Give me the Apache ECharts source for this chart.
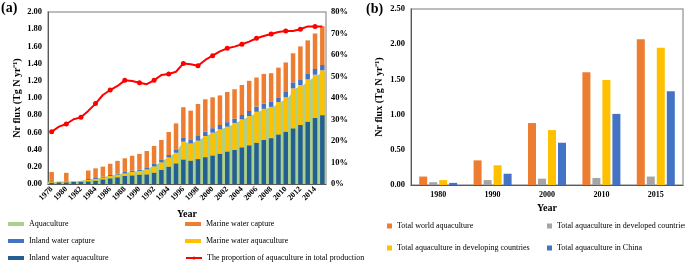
<!DOCTYPE html>
<html>
<head>
<meta charset="utf-8">
<script src="https://cdn.jsdelivr.net/npm/echarts@6/dist/echarts.min.js"></script>
<style>
  html, body { margin: 0; padding: 0; background: #fff; }
  #chart { width: 685px; height: 263px; }
</style>
</head>
<body>
<div id="chart"></div>
<script>
// panel (a): 1978-2015
const years = ['1978', '1979', '1980', '1981', '1982', '1983', '1984', '1985', '1986', '1987',
  '1988', '1989', '1990', '1991', '1992', '1993', '1994', '1995', '1996', '1997',
  '1998', '1999', '2000', '2001', '2002', '2003', '2004', '2005', '2006', '2007',
  '2008', '2009', '2010', '2011', '2012', '2013', '2014', '2015']
const inlandAquaculture = [0.016, 0.020, 0.020, 0.023, 0.025, 0.031, 0.039, 0.054, 0.066, 0.078,
  0.093, 0.100, 0.109, 0.112, 0.132, 0.165, 0.202, 0.240, 0.285, 0.272,
  0.290, 0.312, 0.332, 0.352, 0.378, 0.395, 0.426, 0.450, 0.480, 0.512,
  0.533, 0.576, 0.608, 0.647, 0.686, 0.725, 0.767, 0.800]
const marineAquaculture = [0.011, 0.004, 0.008, 0.005, 0.007, 0.016, 0.019, 0.020, 0.027, 0.031,
  0.031, 0.040, 0.042, 0.059, 0.073, 0.087, 0.108, 0.124, 0.207, 0.201,
  0.214, 0.246, 0.265, 0.284, 0.289, 0.315, 0.326, 0.340, 0.360, 0.362,
  0.364, 0.377, 0.400, 0.465, 0.465, 0.492, 0.504, 0.522]
const inlandCapture = [0.008, 0.002, 0.005, 0.002, 0.002, 0.011, 0.012, 0.011, 0.012, 0.010,
  0.016, 0.015, 0.016, 0.023, 0.028, 0.035, 0.027, 0.039, 0.051, 0.046,
  0.054, 0.051, 0.052, 0.050, 0.052, 0.050, 0.050, 0.059, 0.059, 0.060,
  0.058, 0.055, 0.062, 0.070, 0.058, 0.062, 0.066, 0.062]
const marineCapture = [0.105, 0, 0.097, 0, 0, 0.099, 0.112, 0.117, 0.130, 0.150,
  0.159, 0.173, 0.183, 0.190, 0.210, 0.225, 0.268, 0.302, 0.350, 0.334,
  0.372, 0.376, 0.359, 0.344, 0.351, 0.342, 0.350, 0.351, 0.339, 0.346,
  0.333, 0.345, 0.343, 0.338, 0.391, 0.391, 0.413, 0.451]
const aquacultureTotal = [0.027, 0.024, 0.028, 0.028, 0.032, 0.047, 0.058, 0.074, 0.093, 0.109,
  0.124, 0.140, 0.151, 0.171, 0.205, 0.252, 0.310, 0.364, 0.492, 0.473,
  0.504, 0.558, 0.597, 0.636, 0.667, 0.710, 0.752, 0.790, 0.840, 0.874,
  0.897, 0.953, 1.008, 1.112, 1.151, 1.217, 1.271, 1.322]
// proportion of aquaculture in total production (%)
const aquacultureShare = [24.3, 26.7, 27.9, 30.1, 31.0, 34.0, 37.4, 41.4, 43.7, 45.6,
  48.2, 47.9, 47.1, 46.4, 48.2, 50.7, 51.2, 52.2, 56.1, 55.7,
  55.0, 57.7, 59.7, 61.7, 63.1, 63.9, 65.0, 66.2, 67.8, 68.8,
  69.8, 70.7, 71.2, 71.2, 72.0, 73.3, 73.2, 73.3]

// panel (b)
const groupYears = ['1980', '1990', '2000', '2010', '2015']
const worldAquaculture = [0.12, 0.35, 0.88, 1.60, 2.07]
const developedAquaculture = [0.04, 0.07, 0.09, 0.10, 0.12]
const developingAquaculture = [0.07, 0.28, 0.78, 1.49, 1.95]
const chinaAquaculture = [0.03, 0.16, 0.60, 1.01, 1.33]

const serif = 'Liberation Serif'
const axisDark = '#595959'
const tickFont = { fontFamily: serif, fontWeight: 'bold', fontSize: 8.5, color: '#000' }
const nameFont = { fontFamily: serif, fontWeight: 'bold', fontSize: 10, color: '#000' }
const legendFont = { fontFamily: serif, fontSize: 8, color: '#000', overflow: 'none' }

// one legend per entry so the two-column layout stays fixed
function legendItem (name, left, top, small, icon) {
  let item = { name: name }
  if (icon) item.icon = icon
  return {
    left: left, top: top, padding: 0, width: 160,
    itemWidth: small ? 5 : 16, itemHeight: small ? 5 : 4,
    textStyle: legendFont, data: [item]
  }
}

let chart = echarts.init(document.getElementById('chart'), null, { renderer: 'canvas' })

chart.setOption({
  animation: false,
  backgroundColor: '#fff',
  graphic: [
    { type: 'text', left: 1, top: 1, style: { text: '(a)', fontFamily: serif, fontWeight: 'bold', fontSize: 14, fill: '#000' } },
    { type: 'text', left: 366, top: 2, style: { text: '(b)', fontFamily: serif, fontWeight: 'bold', fontSize: 14, fill: '#000' } }
  ],
  legend: [
    legendItem('Aquaculture', 8, 220, false, 'rect'),
    legendItem('Inland water capture', 8, 237, false, 'rect'),
    legendItem('Inland water aquaculture', 8, 254, false, 'rect'),
    legendItem('Marine water capture', 185, 220, false, 'rect'),
    legendItem('Marine water aquaculture', 185, 237, false, 'rect'),
    legendItem('The proportion of aquaculture in total production', 185, 254, false),
    legendItem('Total world aquaculture', 387, 222, true, 'rect'),
    legendItem('Total aquaculture in developing countries', 387, 244, true, 'rect'),
    legendItem('Total aquaculture in developed countries', 547, 222, true, 'rect'),
    legendItem('Total aquaculture in China', 547, 244, true, 'rect')
  ],
  grid: [
    { left: 48, right: 359, top: 12, bottom: 79, show: true, borderColor: '#a6a6a6', borderWidth: 1.5 },
    { left: 411, right: 2, top: 9, bottom: 78, show: true, borderColor: '#a6a6a6', borderWidth: 1.5 }
  ],
  xAxis: [
    {
      type: 'category', gridIndex: 0, data: years,
      name: 'Year', nameLocation: 'middle', nameGap: 25, nameTextStyle: nameFont,
      axisLine: { lineStyle: { color: axisDark } },
      axisTick: { show: false },
      axisLabel: Object.assign({ interval: 1, rotate: 45, margin: 4 }, tickFont, { fontSize: 8 })
    },
    {
      type: 'category', gridIndex: 0, data: years, boundaryGap: false, show: false
    },
    {
      type: 'category', gridIndex: 1, data: groupYears,
      name: 'Year', nameLocation: 'middle', nameGap: 18, nameTextStyle: nameFont,
      axisLine: { lineStyle: { color: axisDark } },
      axisTick: { show: false },
      axisLabel: Object.assign({ margin: 6 }, tickFont, { fontSize: 8 })
    }
  ],
  yAxis: [
    {
      type: 'value', gridIndex: 0, min: 0, max: 2, interval: 0.2,
      name: 'Nr flux (Tg N yr\u207B\u00B9)', nameLocation: 'middle', nameGap: 26, nameTextStyle: nameFont,
      axisLine: { show: true, lineStyle: { color: axisDark } },
      axisTick: { show: false },
      splitLine: { show: false },
      axisLabel: Object.assign({ margin: 6, formatter: v => v.toFixed(2) }, tickFont)
    },
    {
      type: 'value', gridIndex: 0, min: 0, max: 80, interval: 10, position: 'right',
      axisLine: { show: false },
      axisTick: { show: false },
      splitLine: { show: false },
      axisLabel: Object.assign({ margin: 5, formatter: '{value}%' }, tickFont)
    },
    {
      type: 'value', gridIndex: 1, min: 0, max: 2.5, interval: 0.5,
      name: 'Nr flux (Tg N yr\u207B\u00B9)', nameLocation: 'middle', nameGap: 27, nameTextStyle: nameFont,
      axisLine: { show: true, lineStyle: { color: axisDark } },
      axisTick: { show: false },
      splitLine: { show: false },
      axisLabel: Object.assign({ margin: 6, formatter: v => v.toFixed(2) }, tickFont)
    }
  ],
  series: [
    // green area behind the stacked bars
    {
      name: 'Aquaculture', type: 'line', xAxisIndex: 1, yAxisIndex: 0, z: 1,
      data: aquacultureTotal, symbol: 'none',
      lineStyle: { width: 0, color: '#a9d18e' },
      itemStyle: { color: '#a9d18e' },
      areaStyle: { color: '#a9d18e', opacity: 1 }
    },
    {
      name: 'Inland water aquaculture', type: 'bar', stack: 'a', xAxisIndex: 0, yAxisIndex: 0,
      barWidth: 4.5, data: inlandAquaculture, itemStyle: { color: '#255e91' }
    },
    {
      name: 'Marine water aquaculture', type: 'bar', stack: 'a', xAxisIndex: 0, yAxisIndex: 0,
      barWidth: 4.5, data: marineAquaculture, itemStyle: { color: '#ffc000' }
    },
    {
      name: 'Inland water capture', type: 'bar', stack: 'a', xAxisIndex: 0, yAxisIndex: 0,
      barWidth: 4.5, data: inlandCapture, itemStyle: { color: '#4472c4' }
    },
    {
      name: 'Marine water capture', type: 'bar', stack: 'a', xAxisIndex: 0, yAxisIndex: 0,
      barWidth: 4.5, data: marineCapture, itemStyle: { color: '#ed7d31' }
    },
    {
      name: 'The proportion of aquaculture in total production', type: 'line',
      xAxisIndex: 0, yAxisIndex: 1, z: 5,
      data: aquacultureShare, symbol: 'circle', symbolSize: 5,
      lineStyle: { color: '#ff0000', width: 2 },
      itemStyle: { color: '#ff0000' }
    },
    // panel (b)
    {
      name: 'Total world aquaculture', type: 'bar', xAxisIndex: 2, yAxisIndex: 2,
      barWidth: 8, barGap: '25%', data: worldAquaculture, itemStyle: { color: '#ed7d31' }
    },
    {
      name: 'Total aquaculture in developed countries', type: 'bar', xAxisIndex: 2, yAxisIndex: 2,
      barWidth: 8, barGap: '25%', data: developedAquaculture, itemStyle: { color: '#a5a5a5' }
    },
    {
      name: 'Total aquaculture in developing countries', type: 'bar', xAxisIndex: 2, yAxisIndex: 2,
      barWidth: 8, barGap: '25%', data: developingAquaculture, itemStyle: { color: '#ffc000' }
    },
    {
      name: 'Total aquaculture in China', type: 'bar', xAxisIndex: 2, yAxisIndex: 2,
      barWidth: 8, barGap: '25%', data: chinaAquaculture, itemStyle: { color: '#4472c4' }
    }
  ]
})
</script>
</body>
</html>
